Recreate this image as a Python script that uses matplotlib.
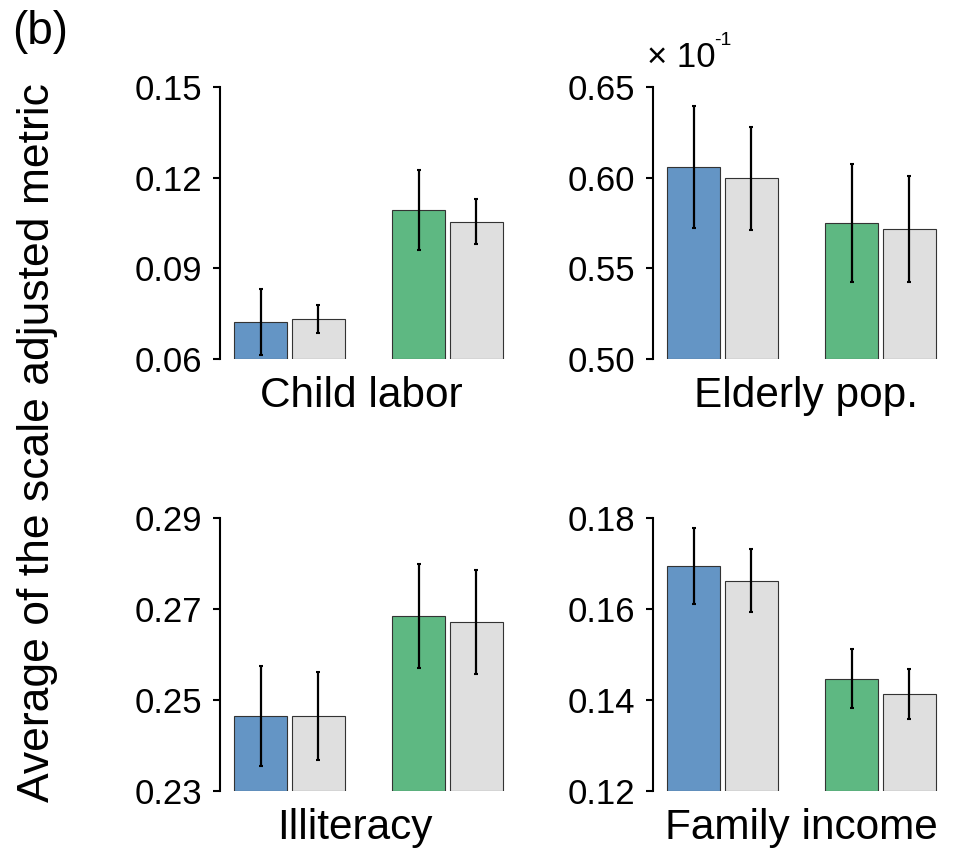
import matplotlib
matplotlib.use("Agg")
import matplotlib.pyplot as plt

plt.rcParams["font.family"] = ["Liberation Sans", "DejaVu Sans"]

# bar order within each panel: blue, grey, green, grey
panels = ["Child labor", "Elderly pop.", "Illiteracy", "Family income"]

child_vals = [0.0722, 0.0732, 0.1094, 0.1054]
child_err = [0.0110, 0.0046, 0.0132, 0.0075]

# shown in units of 10^-1
elderly_vals = [0.606, 0.5996, 0.575, 0.5717]
elderly_err = [0.0336, 0.0284, 0.0328, 0.0294]

illit_vals = [0.2464, 0.2465, 0.2685, 0.2672]
illit_err = [0.0110, 0.0097, 0.0114, 0.0114]

income_vals = [0.1695, 0.1662, 0.1447, 0.1414]
income_err = [0.0084, 0.0069, 0.0064, 0.0055]

yticks = {
    "Child labor": [0.06, 0.09, 0.12, 0.15],
    "Elderly pop.": [0.50, 0.55, 0.60, 0.65],
    "Illiteracy": [0.23, 0.25, 0.27, 0.29],
    "Family income": [0.12, 0.14, 0.16, 0.18],
}
values = {
    "Child labor": (child_vals, child_err),
    "Elderly pop.": (elderly_vals, elderly_err),
    "Illiteracy": (illit_vals, illit_err),
    "Family income": (income_vals, income_err),
}

positions = [0, 1, 2.73, 3.73]
colors = ["#6495c5", "#dfdfdf", "#5eb882", "#dfdfdf"]

W, H = 979, 868
fig = plt.figure(figsize=(W / 100, H / 100), dpi=100)

# axes boxes in pixels: left, top, right, bottom
boxes = {
    "Child labor": (220, 87, 517, 359),
    "Elderly pop.": (653, 87, 950, 359),
    "Illiteracy": (220, 518, 517, 791),
    "Family income": (653, 518, 950, 791),
}
# horizontal centre of each panel's name, pixels
label_x = {"Child labor": 361, "Elderly pop.": 806, "Illiteracy": 355, "Family income": 801}

for name in panels:
    l, t, r, b = boxes[name]
    ax = fig.add_axes([l / W, 1 - b / H, (r - l) / W, (b - t) / H])
    vals, errs = values[name]
    ax.bar(positions, [v - yticks[name][0] for v in vals], bottom=yticks[name][0],
           width=0.91, color=colors, edgecolor="#333333", linewidth=0.8, zorder=2)
    ax.errorbar(positions, vals, yerr=errs, fmt="none", ecolor="black",
                elinewidth=1.6, capsize=1.6, capthick=1.5, zorder=3)
    ax.set_xlim(-0.7, 4.43)
    ax.set_ylim(yticks[name][0], yticks[name][-1])
    ax.set_yticks(yticks[name])
    ax.set_yticklabels(["{:.2f}".format(v) for v in yticks[name]])
    ax.set_xticks([])
    ax.set_xlabel(name, fontsize=30.5)
    ax.xaxis.set_label_coords((label_x[name] - l) / (r - l), -17 / (b - t))
    ax.xaxis.label.set_va("top")
    for s in ["top", "right", "bottom"]:
        ax.spines[s].set_visible(False)
    ax.spines["left"].set_linewidth(1.5)
    ax.tick_params(axis="y", labelsize=25, length=5, width=1.5, pad=8)
    if name == "Elderly pop.":
        ax.text(-0.02, 1.075, "× 10", transform=ax.transAxes, fontsize=25,
                ha="left", va="baseline")
        ax.text(0.205, 1.155, "-1", transform=ax.transAxes, fontsize=14,
                ha="left", va="baseline")

fig.text(38 / W, 1 - 443 / H, "Average of the scale adjusted metric",
         rotation=90, fontsize=32, ha="center", va="center")
fig.text(12 / W, 1 - 10 / H, "(b)", fontsize=33, ha="left", va="top")

fig.savefig("out.png", dpi=100)
